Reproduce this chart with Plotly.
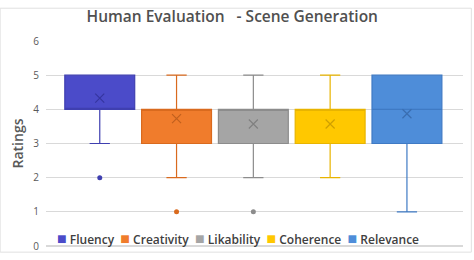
import plotly.graph_objects as go

names = ["Fluency", "Creativity", "Likability", "Coherence", "Relevance"]
q1 = [4, 3, 3, 3, 3]
median = [4, 4, 4, 4, 4]
q3 = [5, 4, 4, 4, 5]
lower = [3, 2, 2, 2, 1]
upper = [5, 5, 5, 5, 5]
means = [4.33, 3.73, 3.57, 3.57, 3.87]
outliers = [[2], [1], [1], [], []]

fills = ["#4B4BC9", "#F07C2C", "#A5A5A5", "#FFC800", "#4E8DD9"]
lines = ["#3F3FB0", "#D96A1E", "#8C8C8C", "#E8B400", "#3F7AC4"]
marks = ["#3535A0", "#C0601E", "#808080", "#D0A000", "#3A6EB0"]

fig = go.Figure()
for i, n in enumerate(names):
    fig.add_trace(go.Box(
        name=n, x=[i], q1=[q1[i]], median=[median[i]], q3=[q3[i]],
        lowerfence=[lower[i]], upperfence=[upper[i]],
        fillcolor=fills[i], line=dict(color=lines[i], width=1.2),
        whiskerwidth=0.29, width=0.91, boxpoints=False, showlegend=False,
    ))
for i, n in enumerate(names):
    fig.add_trace(go.Scatter(
        x=[i], y=[means[i]], mode="markers", showlegend=False, hoverinfo="skip",
        marker=dict(symbol="x-thin-open", size=9, color=marks[i],
                    line=dict(color=marks[i], width=1.2)),
    ))
    if outliers[i]:
        fig.add_trace(go.Scatter(
            x=[i] * len(outliers[i]), y=outliers[i], mode="markers", showlegend=False,
            marker=dict(symbol="circle", size=5, color=lines[i]),
        ))

legend_text = "&nbsp;&nbsp;".join(
    f"<span style='color:{c};font-size:16px'>■</span> {n}" for n, c in zip(names, fills)
)
fig.add_annotation(text=legend_text, xref="paper", yref="paper", x=0.46, y=0.04,
                   xanchor="center", yanchor="middle", showarrow=False,
                   font=dict(size=12, color="#404040", family="Open Sans", weight=600))

fig.update_layout(
    width=474, height=260,
    margin=dict(l=46, r=11, t=41, b=7),
    paper_bgcolor="white", plot_bgcolor="white",
    boxmode="overlay",
    font=dict(family="Open Sans", color="#595959"),
    title=dict(text="Human Evaluation   - Scene Generation", x=0.49, xanchor="center",
               y=0.935, yanchor="middle",
               font=dict(size=15.5, color="#505050", family="Open Sans", weight=600)),
    xaxis=dict(range=[-0.7, 4.73], showticklabels=False, showgrid=False, zeroline=False,
               ticks=""),
    yaxis=dict(range=[0, 6], dtick=1, showgrid=True, gridcolor="#D9D9D9", gridwidth=1,
               zeroline=True, zerolinecolor="#D9D9D9", ticks="", ticklen=0,
               ticklabelstandoff=6,
               tickfont=dict(size=10, color="#595959"),
               title=dict(text="Ratings", standoff=6,
                          font=dict(size=14, color="#595959", weight=600))),
    showlegend=False,
)
fig.add_shape(type="rect", xref="paper", yref="paper", x0=-0.11, x1=1.02, y0=-0.03, y1=1.16,
              line=dict(color="#E0E0E0", width=1))
fig.write_html("out.html")
